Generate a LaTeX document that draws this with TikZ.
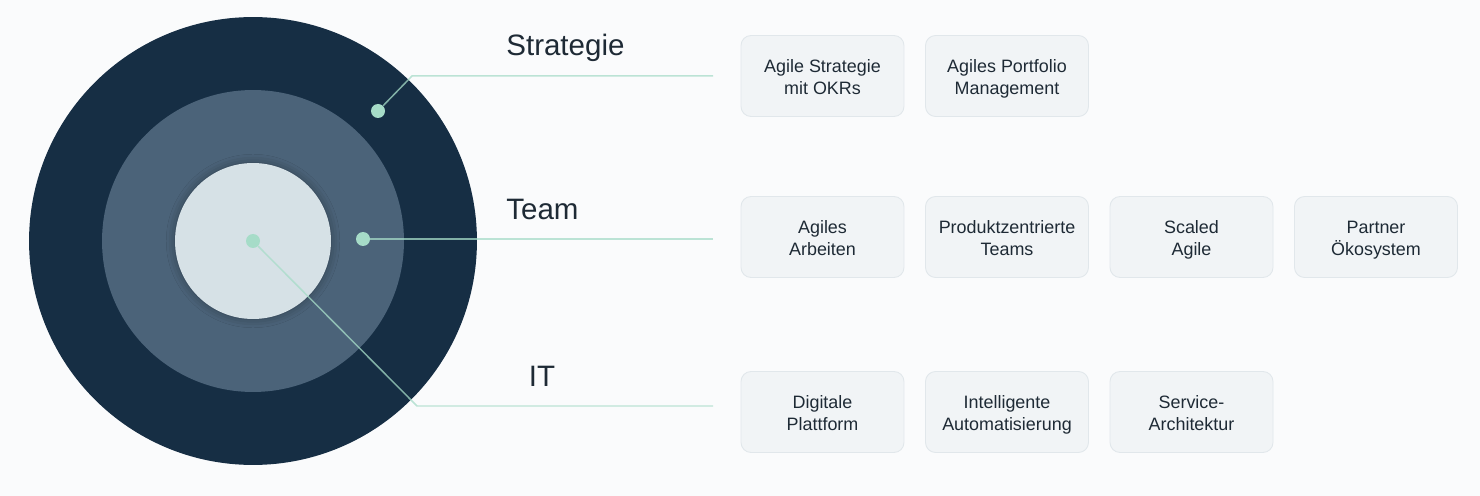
\documentclass[tikz,border=0pt]{standalone}
\usepackage{fontspec}
\setmainfont{Liberation Sans}
\usetikzlibrary{positioning,shadows.blur}
\definecolor{ringOuter}{HTML}{162E44}
\definecolor{ringMid}{HTML}{4B6379}
\definecolor{ringInner}{HTML}{D6E1E6}
\definecolor{mint}{HTML}{A6DCC8}
\definecolor{cardfill}{HTML}{F1F4F6}
\definecolor{cardline}{HTML}{E1E7EB}
\definecolor{pagebg}{HTML}{FAFBFC}
\definecolor{inktext}{HTML}{1E2A35}
\begin{document}
\begin{tikzpicture}[x=0.02cm,y=-0.02cm,
ring/.style={circle,fill=#1,inner sep=0pt},
dot/.style={circle,fill=mint,inner sep=0pt,minimum size=0.28cm},
link/.style={draw=mint,draw opacity=.75,line width=.85pt},
layer/.style={text=inktext,font=\fontsize{16.8}{20}\selectfont,inner sep=0pt},
card/.style={draw=cardline,fill=cardfill,rounded corners=0.2cm,line width=.5pt,minimum width=3.26cm,minimum height=1.62cm,align=center,text=inktext,font=\fontsize{10.2}{12.3}\selectfont,inner sep=2pt,
 text height=24pt,text depth=3pt}]
\fill[pagebg] (0,0) rectangle (1480,496);
\useasboundingbox (0,0) rectangle (1480,496);
% rings
\node[ring=ringOuter,minimum size=8.96cm] (outer) at (253,241) {};
\node[ring=ringMid,minimum size=6.04cm] (mid) at (253,241) {};
\node[ring=ringInner,minimum size=3.12cm,blur shadow={shadow xshift=0pt,shadow yshift=0pt,shadow blur radius=5pt,shadow opacity=35}] (inner) at (253,241) {};
% connectors
\coordinate (bendS) at (412,76);
\coordinate (endS) at (713,76);
\coordinate (endT) at (713,239);
\coordinate (bendI) at (417,406);
\coordinate (endI) at (713,406);
\node[dot] (dotS) at (378,111) {};
\node[dot] (dotT) at (363,239) {};
\node[dot] (dotI) at (253,241) {};
\draw[link] (dotS) -- (bendS) -- (endS);
\draw[link] (dotT) -- (endT);
\draw[link] (dotI) -- (bendI) -- (endI);
% layer labels
\node[layer,anchor=west] (strategie) at (506,48) {Strategie};
\node[layer,anchor=west] (team) at (506,209) {Team};
\node[layer] (it) at (542,376) {IT};
% cards
\node[card] (okr) at (822.5,76) {Agile Strategie\\mit OKRs};
\node[card] (portfolio) at (1007,76) {Agiles Portfolio\\Management};
\node[card] (arbeiten) at (822.5,237) {Agiles\\Arbeiten};
\node[card] (produkt) at (1007,237) {Produktzentrierte\\Teams};
\node[card] (scaled) at (1191.5,237) {Scaled\\Agile};
\node[card] (partner) at (1376,237) {Partner\\Ökosystem};
\node[card] (plattform) at (822.5,412) {Digitale\\Plattform};
\node[card] (automat) at (1007,412) {Intelligente\\Automatisierung};
\node[card] (service) at (1191.5,412) {Service-\\Architektur};
\end{tikzpicture}
\end{document}
